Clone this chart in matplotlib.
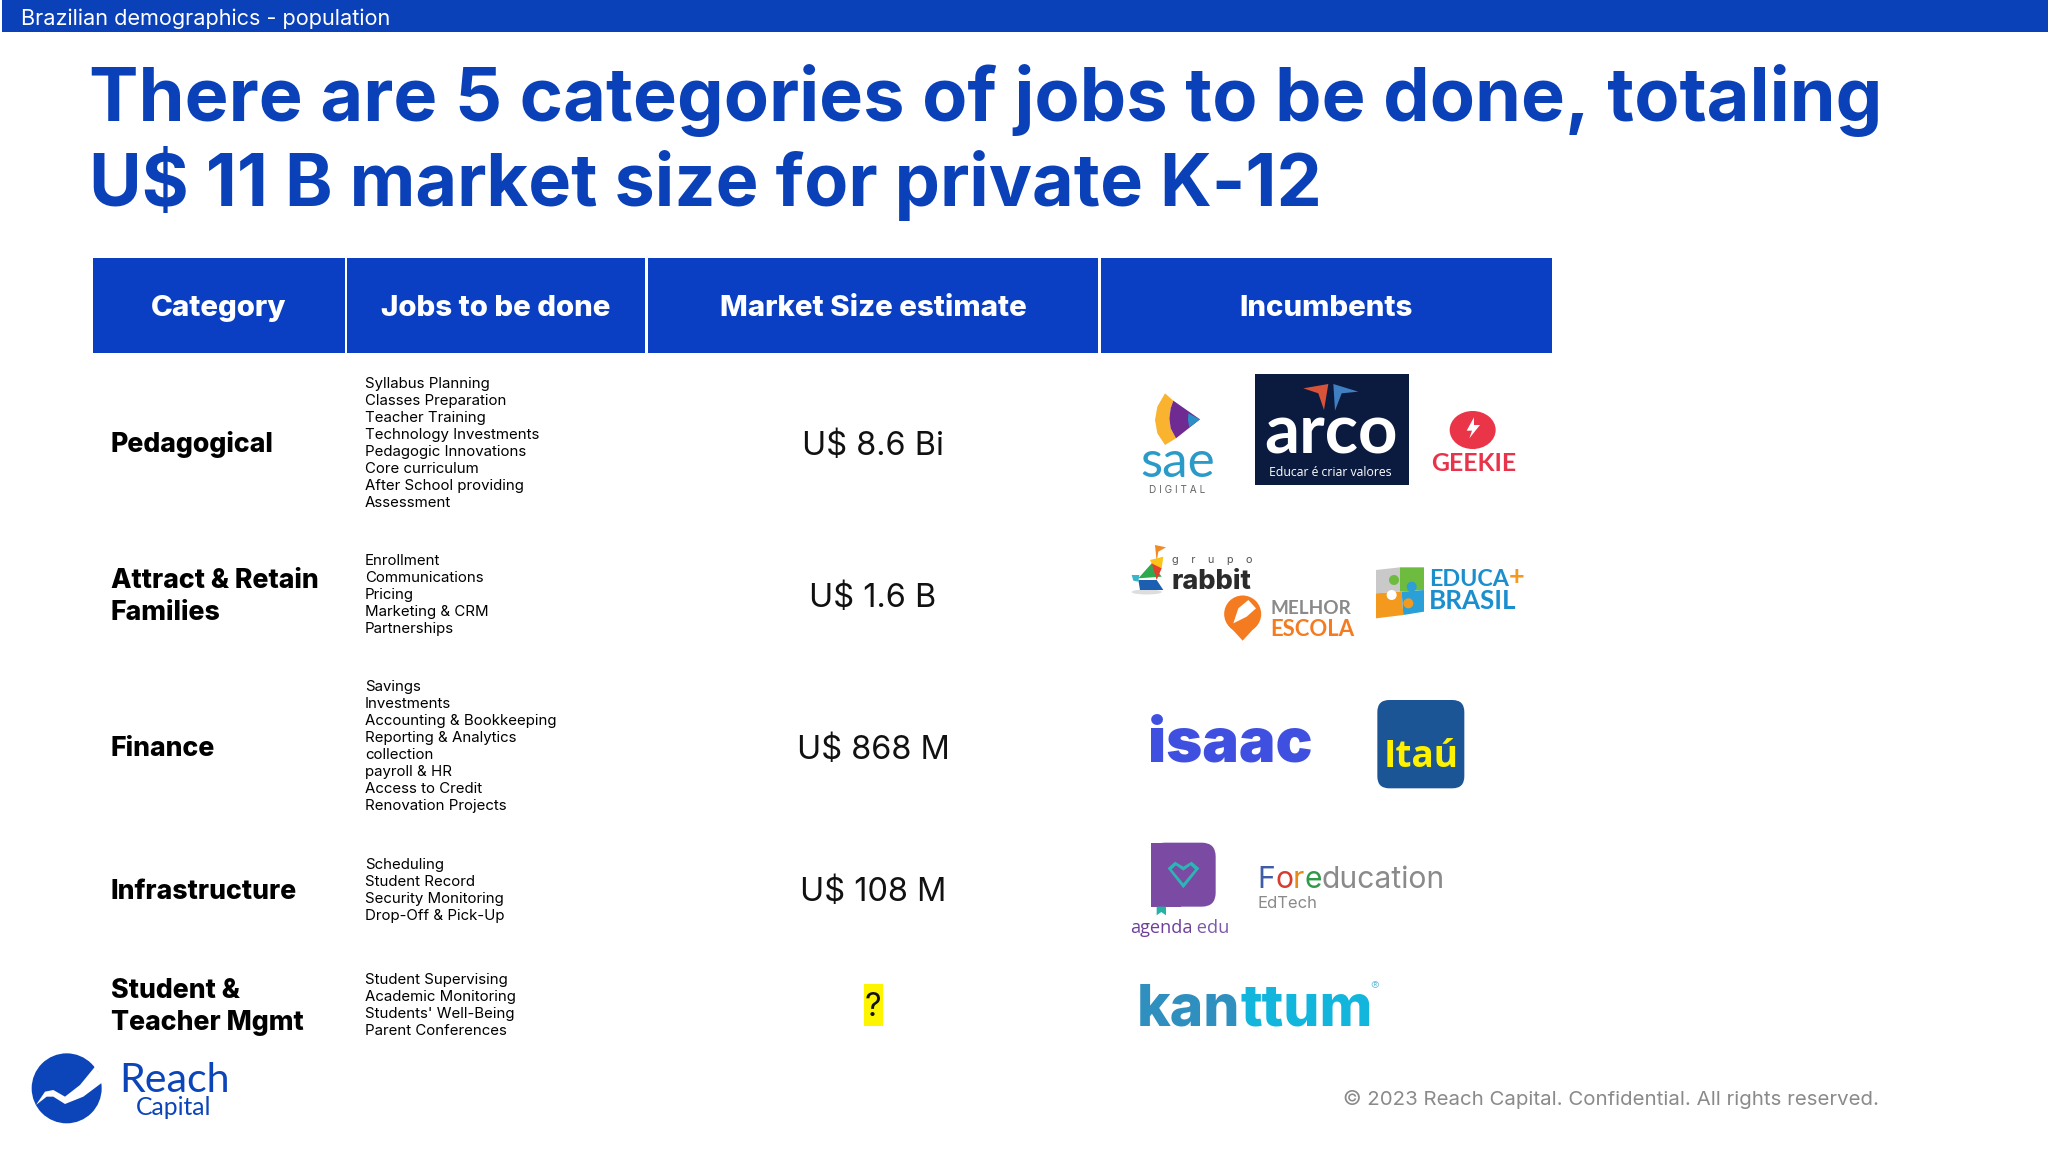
#!/usr/bin/env python3
"""Reach Capital slide: K-12 jobs to be done table"""
import matplotlib
matplotlib.use('Agg')
import matplotlib.pyplot as plt
from matplotlib.patches import Rectangle, Circle, Ellipse, Polygon, FancyBboxPatch

BLUE = '#0a40b8'
HEADER_BLUE = '#0a3fc4'
FONT = 'Inter'

BAR_TEXT = 'Brazilian demographics - population'
TITLE_LINES = ['There are 5 categories of jobs to be done, totaling',
               'U$ 11 B market size for private K-12']
HEADERS = ['Category', 'Jobs to be done', 'Market Size estimate', 'Incumbents']
CATEGORIES = [['Pedagogical'], ['Attract & Retain', 'Families'], ['Finance'],
              ['Infrastructure'], ['Student &', 'Teacher Mgmt']]
MARKET_SIZES = ['U$ 8.6 Bi', 'U$ 1.6 B', 'U$ 868 M', 'U$ 108 M', '?']
JOBS = [
    ['Syllabus Planning', 'Classes Preparation', 'Teacher Training', 'Technology Investments',
     'Pedagogic Innovations', 'Core curriculum', 'After School providing', 'Assessment'],
    ['Enrollment', 'Communications', 'Pricing', 'Marketing & CRM', 'Partnerships'],
    ['Savings', 'Investments', 'Accounting & Bookkeeping', 'Reporting & Analytics',
     'collection', 'payroll & HR', 'Access to Credit', 'Renovation Projects'],
    ['Scheduling', 'Student Record', 'Security Monitoring', 'Drop-Off & Pick-Up'],
    ['Student Supervising', 'Academic Monitoring', "Students' Well-Being", 'Parent Conferences'],
]
FOOTER = '© 2023 Reach Capital. Confidential. All rights reserved.'

# layout, px
COL_EDGES = [(93, 345), (347, 645), (648, 1098), (1101, 1552)]
ROW_Y = [445, 597, 749, 892, 1007]
JOB_Y0 = [384, 561, 687, 865, 980]
JOB_STEP = 17

fig = plt.figure(figsize=(20.48, 11.52), dpi=100, facecolor='white')
ax = fig.add_axes([0, 0, 1, 1])
ax.set_xlim(0, 2048)
ax.set_ylim(1152, 0)
ax.axis('off')
rend = fig.canvas.get_renderer()


def px(size):
    return size * 0.72


def fit(x0, x1, y, s, color, weight='normal', family=FONT, va='center'):
    t = ax.text(x0, y, s, color=color, fontweight=weight, family=family, fontsize=20, va=va, ha='left')
    w = t.get_window_extent(rend).width
    t.set_fontsize(20 * (x1 - x0) / w)
    return t


def fit_parts(x0, x1, y, parts, weight='normal', family=FONT):
    """several colours on one word, pieces placed one after the other"""
    whole = ax.text(0, 0, ''.join(p[0] for p in parts), fontsize=20, fontweight=weight, family=family)
    scale = (x1 - x0) / whole.get_window_extent(rend).width
    whole.remove()
    x = x0
    for s, c in parts:
        t = ax.text(x, y, s, color=c, fontsize=20 * scale, fontweight=weight, family=family, va='center')
        x += t.get_window_extent(rend).width


def poly(points, color, zoom, **kw):
    ax.add_patch(Polygon([zoom(*p) for p in points], closed=True, fc=color, ec='none', **kw))


def z1(x, y):
    return 1100 + x / 3, 360 + y / 3


def z2(x, y):
    return 1100 + x / 3, 680 + y / 3


def z3(x, y):
    return x / 3, 950 + y / 3


# --- top bar and title ---
ax.add_patch(Rectangle((2, 0), 2046, 32, fc=BLUE, ec='none'))
fit(21, 391, 18.5, BAR_TEXT, 'white')
fit(89, 1886, 121, TITLE_LINES[0], BLUE, 'bold', va='baseline')
fit(89, 1324, 206, TITLE_LINES[1], BLUE, 'bold', va='baseline')

# --- table ---
for (x0, x1), label in zip(COL_EDGES, HEADERS):
    ax.add_patch(Rectangle((x0, 258), x1 - x0, 95, fc=HEADER_BLUE, ec='none'))
    ax.text((x0 + x1) / 2, 309, label, color='white', fontweight=800, family=FONT,
            fontsize=px(29.5), ha='center', va='center')

for i, cat in enumerate(CATEGORIES):
    for j, line in enumerate(cat):
        y = ROW_Y[i] + (j - (len(cat) - 1) / 2) * 31
        ax.text(111, y, line, color='black', fontweight=800, family=FONT, fontsize=px(26.7), va='center')
    for j, line in enumerate(JOBS[i]):
        ax.text(365, JOB_Y0[i] + j * JOB_STEP, line, color='black', family=FONT, fontsize=px(15), va='center')
    if MARKET_SIZES[i] == '?':
        ax.add_patch(Rectangle((864, 984), 19, 42, fc='#fdf500', ec='none'))
    ax.text(873, ROW_Y[i] + 1, MARKET_SIZES[i], color='#111111', family=FONT, fontweight='normal',
            fontsize=px(32.5), ha='center', va='center')

# --- logos, row 1 ---
poly([(195, 100), (172, 140), (165, 180), (172, 220), (195, 255), (228, 235), (212, 205), (208, 175), (212, 145), (220, 122)],
     '#f9b32f', z1)
poly([(220, 122), (212, 145), (208, 175), (212, 205), (228, 235), (300, 178)], '#6f2b91', z1)
poly([(265, 160), (300, 178), (268, 202), (264, 180)], '#2a8fc6', z1)
fit(z1(120, 0)[0], z1(345, 0)[0], z1(0, 310)[1], 'sae', '#2a9bc9', 'normal', 'Lato')
fit(z1(148, 0)[0], z1(318, 0)[0], z1(0, 390)[1], 'D I G I T A L', '#666666')

ax.add_patch(Rectangle(z1(466, 43), 154, 110.5, fc='#0b1b3f', ec='none'))
poly([(610, 85), (685, 72), (672, 150), (655, 100)], '#d9533a', z1)
poly([(775, 95), (700, 72), (705, 152), (725, 100)], '#3f7fc2', z1)
fit(z1(492, 0)[0], z1(892, 0)[0], z1(0, 222)[1], 'arco', 'white', 'bold', 'Lato')
fit(z1(507, 0)[0], z1(877, 0)[0], z1(0, 336)[1], 'Educar é criar valores', 'white', 'normal', 'Open Sans')

ax.add_patch(Ellipse(z1(1118, 210), 46, 38, fc='#ea3448', ec='none'))
poly([(1085, 235), (1140, 240), (1125, 268)], '#ea3448', z1)
poly([(1122, 172), (1100, 212), (1116, 212), (1108, 235), (1140, 195), (1122, 195)], 'white', z1)
fit(z1(993, 0)[0], z1(1248, 0)[0], z1(0, 311)[1], 'GEEKIE', '#e8334a', 'bold', 'Lato')

# --- logos, row 2 ---
ax.add_patch(Ellipse(z1(140, 696), 30, 5, fc='#dddddd', ec='none'))
poly([(165, 555), (198, 562), (175, 575), (170, 605)], '#f08a24', z1)
poly([(150, 600), (190, 590), (185, 625), (160, 620)], '#fcc419', z1)
poly([(115, 655), (155, 610), (185, 650)], '#2fa84f', z1)
poly([(155, 610), (185, 625), (170, 660)], '#e2402b', z1)
poly([(115, 660), (170, 660), (190, 690), (120, 690)], '#1c5fb0', z1)
poly([(95, 645), (118, 645), (115, 665), (100, 662)], '#39b5c9', z1)
fit(z1(215, 0)[0], z1(455, 0)[0], z1(0, 600)[1], 'g    r    u    p    o', '#555555')
fit(z1(215, 0)[0], z1(455, 0)[0], z1(0, 667)[1], 'rabbit', '#2b2b2b', 800)

ax.add_patch(Circle(z1(428, 762), 18.5, fc='#f47b20', ec='none'))
poly([(385, 795), (471, 795), (428, 842)], '#f47b20', z1)
poly([(400, 790), (415, 745), (445, 720), (468, 745), (440, 770)], 'white', z1)
fit(z1(512, 0)[0], z1(755, 0)[0], z1(0, 745)[1], 'MELHOR', '#8a8a8a', 'bold', 'Lato')
fit(z1(512, 0)[0], z1(765, 0)[0], z1(0, 808)[1], 'ESCOLA', '#f47b20', 'bold', 'Lato')

poly([(828, 630), (900, 622), (900, 695), (828, 700)], '#c9c9c9', z1)
poly([(900, 622), (972, 622), (972, 690), (900, 695)], '#6dbb3f', z1)
poly([(828, 700), (905, 695), (910, 765), (828, 775)], '#f39a1e', z1)
poly([(905, 695), (972, 690), (972, 755), (910, 765)], '#2a9fd8', z1)
# puzzle tabs
ax.add_patch(Circle(z1(882, 660), 5, fc='#6dbb3f', ec='none'))
ax.add_patch(Circle(z1(935, 680), 5, fc='#2a9fd8', ec='none'))
ax.add_patch(Circle(z1(925, 730), 5, fc='#f39a1e', ec='none'))
ax.add_patch(Circle(z1(875, 705), 5, fc='white', ec='none'))
fit(z1(988, 0)[0], z1(1228, 0)[0], z1(0, 657)[1], 'EDUCA', '#1b8fce', 'bold', 'Lato')
fit(z1(1225, 0)[0], z1(1272, 0)[0], z1(0, 652)[1], '+', '#f39a1e', 'bold', 'Lato')
fit(z1(988, 0)[0], z1(1250, 0)[0], z1(0, 724)[1], 'BRASIL', '#1b8fce', 'bold', 'Lato')

# --- logos, row 3 ---
fit(z2(145, 0)[0], z2(638, 0)[0], z2(0, 198)[1], 'isaac', '#3f4fe0', 900)
x0, y0 = z2(832, 60)
x1, y1 = z2(1093, 325)
ax.add_patch(FancyBboxPatch((x0 + 12, y0 + 12), x1 - x0 - 24, y1 - y0 - 24,
                            boxstyle='round,pad=12,rounding_size=12', fc='#1c5596', ec='none'))
fit(z2(850, 0)[0], z2(1075, 0)[0], z2(0, 232)[1], 'Itaú', '#fff200', 'bold', 'Open Sans')

# --- logos, row 4 ---
x0, y0 = z2(153, 488)
x1, y1 = z2(347, 680)
ax.add_patch(FancyBboxPatch((x0 + 14, y0 + 14), x1 - x0 - 28, y1 - y0 - 28,
                            boxstyle='round,pad=14,rounding_size=14', fc='#7b4aa3', ec='none'))
ax.add_patch(Rectangle((x0, y0 + 32), 30, y1 - y0 - 32, fc='#7b4aa3', ec='none'))
ax.add_patch(Rectangle((x0, y0), 30, 32, fc='#7b4aa3', ec='none'))
poly([(170, 680), (198, 680), (198, 706), (184, 696), (170, 706)], '#26b3a6', z2)
poly([(203, 565), (225, 545), (250, 560), (275, 545), (298, 565), (250, 625)], '#2cb5b5', z2)
poly([(215, 568), (228, 556), (250, 572), (272, 556), (285, 568), (250, 610)], '#7b4aa3', z2)
fit_parts(z2(90, 0)[0], z2(388, 0)[0], z2(0, 743)[1], [('agenda', '#6c3f9c'), (' edu', '#7b5aa8')], 'normal', 'Open Sans')
fit_parts(z2(472, 0)[0], z2(1035, 0)[0], z2(0, 601)[1],
          [('F', '#3f5ca8'), ('o', '#d63c2f'), ('r', '#e88a1a'), ('e', '#2f9a48'), ('ducation', '#8a8a8a')])
fit(z2(472, 0)[0], z2(652, 0)[0], z2(0, 671)[1], 'EdTech', '#8a8a8a')

# --- logos, row 5 ---
fit_parts(z2(110, 0)[0], z2(815, 0)[0], z2(0, 990)[1], [('kan', '#2f8fbf'), ('ttum', '#12b5dc')], 800)
ax.text(*z2(825, 920), '®', color='#7ac8e0', fontsize=px(13), ha='center', va='center', family=FONT)

# --- footer ---
ax.add_patch(Circle(z3(200, 415), 35, fc='#0b45b9', ec='none'))
poly([(108, 465), (135, 425), (160, 420), (195, 440), (240, 405), (285, 350), (310, 395),
      (250, 440), (195, 462), (160, 440), (140, 440)], 'white', z3)
fit(z3(358, 0)[0], z3(690, 0)[0], z3(0, 390)[1], 'Reach', '#0b45b9', 'normal', 'Lato')
fit(z3(408, 0)[0], z3(636, 0)[0], z3(0, 472)[1], 'Capital', '#0b45b9', 'normal', 'Lato')
fit(1343, 1877, 1099.5, FOOTER, '#8a8a8a')

fig.savefig('out.png', dpi=100, facecolor='white')
